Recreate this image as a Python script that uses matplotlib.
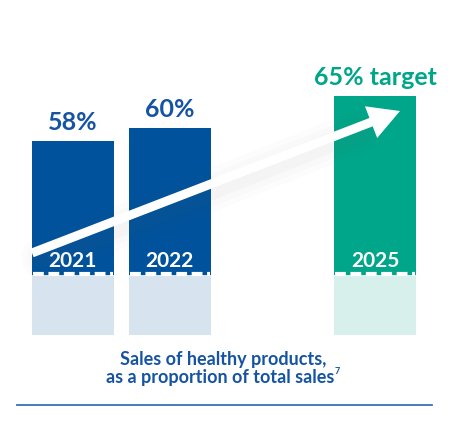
import matplotlib.pyplot as plt
from matplotlib.patches import FancyArrow, Rectangle
import numpy as np

plt.rcParams['font.family'] = ['Lato', 'DejaVu Sans']

years = ['2021', '2022', '2025']
values = [58, 60, 65]
value_labels = ['58%', '60%', '65% target']
caption_lines = ['Sales of healthy products,', 'as a proportion of total sales']
footnote = '7'

DARK_BLUE = '#00529c'
LIGHT_BLUE = '#d7e3ee'
GREEN = '#00a689'
LIGHT_GREEN = '#d8f0eb'
TEXT_BLUE = '#1553a3'
bar_colors = [DARK_BLUE, DARK_BLUE, GREEN]
base_colors = [LIGHT_BLUE, LIGHT_BLUE, LIGHT_GREEN]
label_colors = [TEXT_BLUE, TEXT_BLUE, GREEN]

W, H = 460, 428
fig = plt.figure(figsize=(W / 100, H / 100), dpi=100)

# bar axes: spans bars horizontally, bottom of the light stubs up to the top edge
ax = fig.add_axes([32 / W, (H - 335) / H, 384 / W, 335 / H])
x = np.array([0, 1, 3.12])
width = 0.845
ymin, ymax = 27.7, 79.9
base = 37.05
ax.set_xlim(-width / 2, x[-1] + width / 2)
ax.set_ylim(ymin, ymax)
ax.axis('off')

ax.bar(x, np.array(values) - ymin, bottom=ymin, width=width, color=bar_colors, zorder=1)
for xi, bc in zip(x, base_colors):
    ax.add_patch(Rectangle((xi - width / 2, ymin), width, base - ymin, color=bc, zorder=2, lw=0))
    ax.plot([xi - width / 2 + 0.01, xi + width / 2 - 0.01], [base + 0.12, base + 0.12],
            color='white', lw=3, ls=(0, (2.6, 1.1)), solid_capstyle='butt', zorder=3)

for xi, v, lab, c in zip(x, values, value_labels, label_colors):
    ax.annotate(lab, (xi, v), xytext=(0, 7.5), textcoords='offset points',
                ha='center', va='baseline', fontsize=18, fontweight='bold', color=c)
for xi, yr in zip(x, years):
    ax.annotate(yr, (xi, base), xytext=(0, 6), textcoords='offset points', ha='center',
                va='baseline', fontsize=15, fontweight='bold', color='white', zorder=4)

# overlay in pixel coordinates for arrow, caption and rule
ov = fig.add_axes([0, 0, 1, 1], facecolor='none')
ov.set_xlim(0, W)
ov.set_ylim(H, 0)
ov.axis('off')

x0, y0, x1, y1 = 32, 253, 400, 111
for lw, a in [(30, 0.015), (22, 0.02), (14, 0.03)]:
    ov.plot([x0 + 10, x1 - 40], [y0 + 5, y1 + 20], color='#666666', lw=lw, alpha=a,
            solid_capstyle='round', zorder=5)
ov.add_patch(FancyArrow(x0, y0, x1 - x0, y1 - y0, width=9, head_width=34, head_length=31,
                        length_includes_head=True, color='white', lw=0, zorder=6))

ov.text(223, 360, caption_lines[0], ha='center', va='center', fontsize=13,
        fontweight='bold', color=TEXT_BLUE)
t = ov.text(220, 378, caption_lines[1], ha='center', va='center', fontsize=13,
            fontweight='bold', color=TEXT_BLUE)
ov.annotate(footnote, xy=(1, 0.62), xycoords=t, xytext=(0.5, 0), textcoords='offset points',
            ha='left', va='bottom', fontsize=6.5, fontweight='bold', color=TEXT_BLUE)
ov.plot([17, 432], [405, 405], color='#3a6fb4', lw=1.3)

fig.savefig('out.png', dpi=100)
